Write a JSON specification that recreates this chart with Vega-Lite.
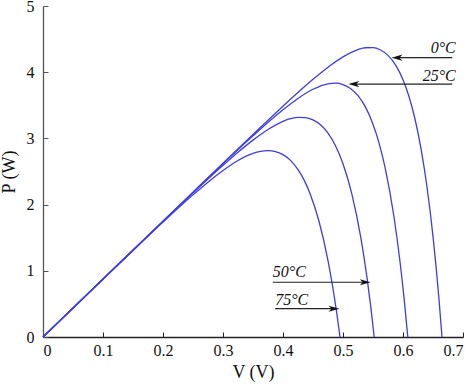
{
  "$schema": "https://vega.github.io/schema/vega-lite/v6.json",
  "autosize": {"type": "none"},
  "padding": {"left": 43, "top": 6, "right": 11, "bottom": 47},
  "width": 420,
  "height": 331,
  "background": "white",
  "config": {"view": {"stroke": null}},
  "datasets": {
    "curves": [
      {"T": "0", "V": 0, "P": 0}, {"T": "0", "V": 0.1, "P": 0.875}, {"T": "0", "V": 0.2, "P": 1.75}, {"T": "0", "V": 0.25, "P": 2.187}, {"T": "0", "V": 0.3, "P": 2.624}, {"T": "0", "V": 0.35, "P": 3.058}, {"T": "0", "V": 0.4, "P": 3.486}, {"T": "0", "V": 0.45, "P": 3.892}, {"T": "0", "V": 0.475, "P": 4.076}, {"T": "0", "V": 0.5, "P": 4.232}, {"T": "0", "V": 0.525, "P": 4.342}, {"T": "0", "V": 0.5375, "P": 4.369}, {"T": "0", "V": 0.55, "P": 4.37}, {"T": "0", "V": 0.5625, "P": 4.335}, {"T": "0", "V": 0.575, "P": 4.254}, {"T": "0", "V": 0.5875, "P": 4.111}, {"T": "0", "V": 0.6, "P": 3.887}, {"T": "0", "V": 0.61, "P": 3.632}, {"T": "0", "V": 0.62, "P": 3.293}, {"T": "0", "V": 0.63, "P": 2.846}, {"T": "0", "V": 0.64, "P": 2.266}, {"T": "0", "V": 0.65, "P": 1.521}, {"T": "0", "V": 0.66, "P": 0.569}, {"T": "0", "V": 0.665, "P": 0},
      {"T": "25", "V": 0, "P": 0}, {"T": "25", "V": 0.1, "P": 0.875}, {"T": "25", "V": 0.2, "P": 1.749}, {"T": "25", "V": 0.25, "P": 2.185}, {"T": "25", "V": 0.3, "P": 2.6175}, {"T": "25", "V": 0.35, "P": 3.04}, {"T": "25", "V": 0.4, "P": 3.433}, {"T": "25", "V": 0.425, "P": 3.604}, {"T": "25", "V": 0.45, "P": 3.742}, {"T": "25", "V": 0.475, "P": 3.825}, {"T": "25", "V": 0.4875, "P": 3.834}, {"T": "25", "V": 0.5, "P": 3.814}, {"T": "25", "V": 0.5125, "P": 3.755}, {"T": "25", "V": 0.525, "P": 3.646}, {"T": "25", "V": 0.5375, "P": 3.472}, {"T": "25", "V": 0.55, "P": 3.215}, {"T": "25", "V": 0.56, "P": 2.933}, {"T": "25", "V": 0.57, "P": 2.566}, {"T": "25", "V": 0.585, "P": 1.813}, {"T": "25", "V": 0.595, "P": 1.14}, {"T": "25", "V": 0.602, "P": 0.569}, {"T": "25", "V": 0.608, "P": 0},
      {"T": "50", "V": 0, "P": 0}, {"T": "50", "V": 0.1, "P": 0.8747}, {"T": "50", "V": 0.2, "P": 1.746}, {"T": "50", "V": 0.25, "P": 2.1766}, {"T": "50", "V": 0.3, "P": 2.593}, {"T": "50", "V": 0.325, "P": 2.791}, {"T": "50", "V": 0.35, "P": 2.974}, {"T": "50", "V": 0.375, "P": 3.134}, {"T": "50", "V": 0.4, "P": 3.257}, {"T": "50", "V": 0.4125, "P": 3.297}, {"T": "50", "V": 0.425, "P": 3.318}, {"T": "50", "V": 0.4375, "P": 3.315}, {"T": "50", "V": 0.45, "P": 3.28}, {"T": "50", "V": 0.4625, "P": 3.205}, {"T": "50", "V": 0.475, "P": 3.08}, {"T": "50", "V": 0.4875, "P": 2.89}, {"T": "50", "V": 0.5, "P": 2.618}, {"T": "50", "V": 0.515, "P": 2.152}, {"T": "50", "V": 0.53, "P": 1.485}, {"T": "50", "V": 0.54, "P": 0.897}, {"T": "50", "V": 0.546, "P": 0.478}, {"T": "50", "V": 0.552, "P": 0},
      {"T": "75", "V": 0, "P": 0}, {"T": "75", "V": 0.1, "P": 0.8736}, {"T": "75", "V": 0.15, "P": 1.3077}, {"T": "75", "V": 0.2, "P": 1.7357}, {"T": "75", "V": 0.25, "P": 2.147}, {"T": "75", "V": 0.275, "P": 2.339}, {"T": "75", "V": 0.3, "P": 2.515}, {"T": "75", "V": 0.325, "P": 2.666}, {"T": "75", "V": 0.35, "P": 2.774}, {"T": "75", "V": 0.3625, "P": 2.805}, {"T": "75", "V": 0.375, "P": 2.816}, {"T": "75", "V": 0.3875, "P": 2.802}, {"T": "75", "V": 0.4, "P": 2.755}, {"T": "75", "V": 0.4125, "P": 2.668}, {"T": "75", "V": 0.425, "P": 2.529}, {"T": "75", "V": 0.435, "P": 2.374}, {"T": "75", "V": 0.445, "P": 2.169}, {"T": "75", "V": 0.46, "P": 1.749}, {"T": "75", "V": 0.475, "P": 1.155}, {"T": "75", "V": 0.485, "P": 0.638}, {"T": "75", "V": 0.49, "P": 0.335}, {"T": "75", "V": 0.495, "P": 0}
    ],
    "arrows": [
      {"label": "0°C", "tail": 0.682, "tip": 0.59, "y": 4.22, "ty": 4.29, "tx": 0.688, "align": "right", "dir": "left"},
      {"label": "25°C", "tail": 0.682, "tip": 0.518, "y": 3.82, "ty": 3.87, "tx": 0.688, "align": "right", "dir": "left"},
      {"label": "50°C", "tail": 0.383, "tip": 0.537, "y": 0.826, "ty": 0.906, "tx": 0.383, "align": "left", "dir": "right"},
      {"label": "75°C", "tail": 0.387, "tip": 0.485, "y": 0.428, "ty": 0.483, "tx": 0.387, "align": "left", "dir": "right"}
    ]
  },
  "layer": [
    {
      "data": {"name": "curves"},
      "mark": {"type": "line", "interpolate": "monotone", "strokeWidth": 1.3, "color": "#3d3de2"},
      "encoding": {
        "x": {
          "field": "V", "type": "quantitative",
          "scale": {"domain": [0, 0.7], "nice": false},
          "axis": {
            "title": "V (V)", "values": [0, 0.1, 0.2, 0.3, 0.4, 0.5, 0.6, 0.7],
            "labelExpr": "datum.value == 0 ? '0' : format(datum.value, '.1f')",
            "grid": false, "tickSize": -5, "labelPadding": 10,
            "domainColor": "#222", "tickColor": "#222", "domainWidth": 1.3,
            "labelFont": "Liberation Serif", "labelFontSize": 16, "labelColor": "#111",
            "titleFont": "Liberation Serif", "titleFontSize": 18, "titleFontWeight": "normal", "titleColor": "#111", "titlePadding": 5
          }
        },
        "y": {
          "field": "P", "type": "quantitative",
          "scale": {"domain": [0, 5], "nice": false},
          "axis": {
            "title": "P (W)", "values": [0, 1, 2, 3, 4, 5],
            "labelExpr": "format(datum.value, 'd')",
            "grid": false, "tickSize": -5, "labelPadding": 14,
            "domainColor": "#555", "tickColor": "#555", "domainWidth": 1.3,
            "labelFont": "Liberation Serif", "labelFontSize": 16, "labelColor": "#111",
            "titleFont": "Liberation Serif", "titleFontSize": 18, "titleFontWeight": "normal", "titleColor": "#111", "titlePadding": 8
          }
        },
        "detail": {"field": "T", "type": "nominal"}
      }
    },
    {
      "data": {"name": "arrows"},
      "mark": {"type": "rule", "color": "#222", "strokeWidth": 1.1},
      "encoding": {
        "x": {"field": "tail", "type": "quantitative"},
        "x2": {"field": "tip"},
        "y": {"field": "y", "type": "quantitative"}
      }
    },
    {
      "data": {"name": "arrows"},
      "transform": [{"filter": "datum.dir == 'left'"}],
      "mark": {"type": "point", "filled": true, "color": "#111", "opacity": 1, "size": 120, "shape": "M -1 0 L 1 -0.55 L 0.45 0 L 1 0.55 Z"},
      "encoding": {
        "x": {"field": "tip", "type": "quantitative"},
        "y": {"field": "y", "type": "quantitative"}
      }
    },
    {
      "data": {"name": "arrows"},
      "transform": [{"filter": "datum.dir == 'right'"}],
      "mark": {"type": "point", "filled": true, "color": "#111", "opacity": 1, "size": 120, "shape": "M 1 0 L -1 -0.55 L -0.45 0 L -1 0.55 Z"},
      "encoding": {
        "x": {"field": "tip", "type": "quantitative"},
        "y": {"field": "y", "type": "quantitative"}
      }
    },
    {
      "data": {"name": "arrows"},
      "transform": [{"filter": "datum.align == 'right'"}],
      "mark": {"type": "text", "align": "right", "baseline": "alphabetic", "font": "Liberation Serif", "fontStyle": "italic", "fontSize": 16, "color": "#111"},
      "encoding": {
        "x": {"field": "tx", "type": "quantitative"},
        "y": {"field": "ty", "type": "quantitative"},
        "text": {"field": "label"}
      }
    },
    {
      "data": {"name": "arrows"},
      "transform": [{"filter": "datum.align == 'left'"}],
      "mark": {"type": "text", "align": "left", "baseline": "alphabetic", "font": "Liberation Serif", "fontStyle": "italic", "fontSize": 16, "color": "#111"},
      "encoding": {
        "x": {"field": "tx", "type": "quantitative"},
        "y": {"field": "ty", "type": "quantitative"},
        "text": {"field": "label"}
      }
    }
  ]
}
